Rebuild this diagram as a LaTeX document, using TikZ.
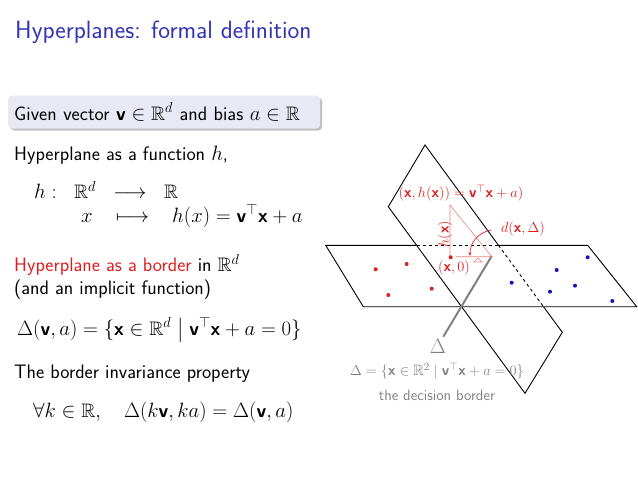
\documentclass[tikz,border=0pt]{standalone}
\usepackage{amsmath,amssymb}
\usetikzlibrary{arrows.meta,shadows}
\definecolor{ttl}{RGB}{51,51,179}
\definecolor{rd}{RGB}{220,30,30}
\definecolor{lrd}{RGB}{235,130,130}
\definecolor{bl}{RGB}{20,20,190}
\definecolor{blk}{RGB}{233,233,245}
\newcommand{\bv}{\text{\bfseries v}}
\newcommand{\bx}{\text{\bfseries x}}
\begin{document}
\begin{tikzpicture}[x=1pt,y=-1pt,font=\sffamily\fontsize{19.5}{23}\selectfont,
  txt/.style={anchor=west,inner sep=0pt},
  sm/.style={font=\sffamily\fontsize{15}{17}\selectfont},
  pl/.style={line width=0.9pt,black},
  rdot/.style={circle,fill=rd,inner sep=0pt,minimum size=4pt},
  bdot/.style={circle,fill=bl,inner sep=0pt,minimum size=4pt}]
\useasboundingbox (0,0) rectangle (638,479);
\node[txt,text=ttl,font=\sffamily\fontsize{25}{28}\selectfont] (title) at (15,32) {Hyperplanes: formal definition};
\node[anchor=west,fill=blk,rounded corners=4pt,minimum width=312pt,minimum height=33pt,text width=300pt,inner xsep=6pt,drop shadow={opacity=0.5,shadow xshift=2pt,shadow yshift=-2pt}] (blk) at (8,112) {Given vector $\bv\in\mathbb{R}^d$ and bias $a\in\mathbb{R}$};
\node[txt] (t1) at (14,155) {Hyperplane as a function $h$,};
\node[txt] (t2) at (34,190) {$h:\;\;\mathbb{R}^d\;\;\longrightarrow\;\;\mathbb{R}$};
\node[txt] (t3) at (81,216) {$x\;\;\;\longmapsto\;\;\; h(x)=\bv^\top\bx+a$};
\node[txt,text=rd] (t4) at (14,265) {Hyperplane as a border \textcolor{black}{in $\mathbb{R}^d$}};
\node[txt] (t5) at (14,290) {(and an implicit function)};
\node[txt] (t6) at (17,330) {$\Delta(\bv,a)=\{\bx\in\mathbb{R}^d\;\big|\;\bv^\top\bx+a=0\}$};
\node[txt] (t7) at (14,374) {The border invariance property};
\node[txt] (t8) at (33,412) {$\forall k\in\mathbb{R},\quad \Delta(k\bv,ka)=\Delta(\bv,a)$};
% planes
\coordinate (h1) at (325.7,245.3); \coordinate (h2) at (587.7,245.3);
\coordinate (h3) at (636.7,306.7); \coordinate (h4) at (363.3,306.7);
\coordinate (v1) at (425,145); \coordinate (v2) at (388.3,206.7);
\coordinate (v3) at (525,393.3); \coordinate (v4) at (562.3,332.3);
\coordinate (ia) at (416.6,245.3); \coordinate (ib) at (498.5,245.3);
\coordinate (ic) at (543.5,306.7);
\draw[pl] (ib) -- (h2) -- (h3) -- (h4) -- (h1) -- (ia);
\draw[pl,dashed] (ia) -- (ib);
\draw[pl] (ic) -- (v4) -- (v3) -- (v2) -- (v1) -- (ib);
\draw[pl,dashed] (ib) -- (ic);
\coordinate (g1) at (491.7,256); \coordinate (g2) at (443.3,336.7);
\draw[gray,line width=2pt] (g1) -- (g2);
\node[text=gray] (dl) at (438,346) {$\Delta$};
\node[text=gray,sm] (dd) at (437,371) {$\Delta=\{\bx\in\mathbb{R}^2\mid\bv^\top\bx+a=0\}$};
\node[text=gray,sm] (db) at (437,395) {the decision border};
% red construction
\coordinate (ta) at (450,205); \coordinate (tb) at (450,256.7); \coordinate (tc) at (491.7,256.7);
\draw[lrd,line width=0.6pt] (tb) -- (ta) -- (tc) -- (456,256.7);
\draw[lrd,line width=0.6pt] (474,262) -- (478,258) -- (482,262) -- cycle;
\node[rdot] (x0) at (450.7,257.3) {};
\node[text=rd,sm] (x0l) at (454,268) {$(\bx,0)$};
\node[text=rd,rotate=90,sm] (hl) at (445,234) {$h(\bx)$};
\node[text=rd,sm] (top) at (461,193) {$(\bx,h(\bx))=\bv^\top\bx+a)$};
\node[text=rd,sm] (dl2) at (523,229) {$d(\bx,\Delta)$};
\draw[rd,line width=0.7pt,-{Stealth[length=4pt]}] (491,230) to[bend right=40] (470,256);
% dots
\foreach \p in {(375.7,269.3),(406.7,264),(388.3,295),(431.7,288.7)} \node[rdot] at \p {};
\foreach \p in {(511.7,282.7),(556.7,270),(550,291.7),(575,285.7),(587.7,257.3),(612.3,301)} \node[bdot] at \p {};
\end{tikzpicture}
\end{document}
